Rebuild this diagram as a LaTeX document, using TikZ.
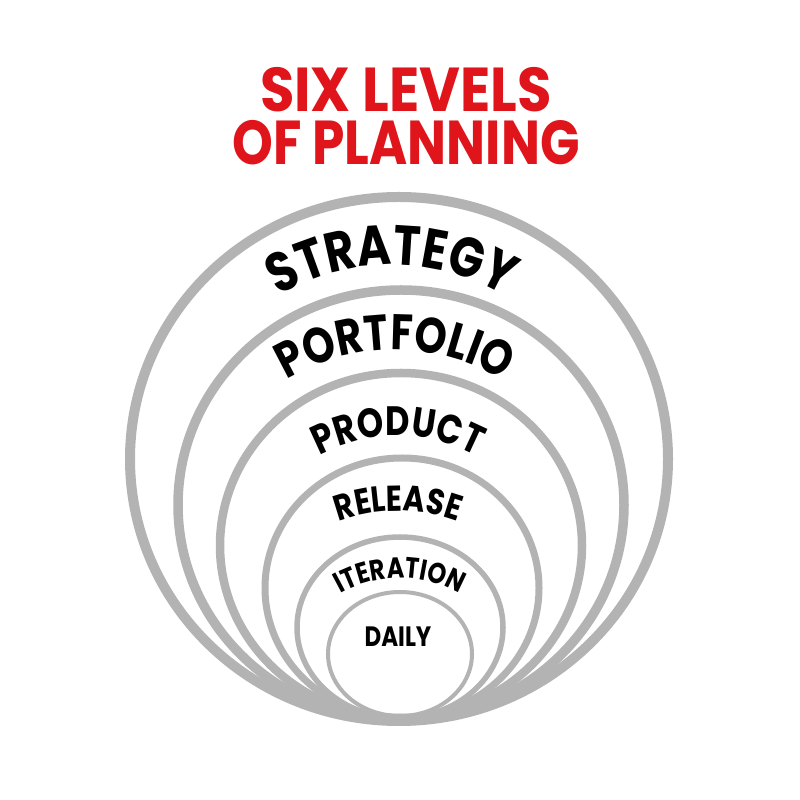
\documentclass[tikz,border=0pt]{standalone}
\usepackage{fontspec}
\newfontfamily\hand[FakeStretch=0.82]{Poppins}
\usetikzlibrary{decorations.text}
\definecolor{ringgray}{HTML}{B3B3B3}
\definecolor{titlered}{HTML}{E0141B}
\begin{document}
\begin{tikzpicture}[x=1pt,y=1pt,
  ring/.style={draw=ringgray},
  titletext/.style={text=titlered,anchor=base,inner sep=0pt,font=\hand\bfseries\fontsize{62}{62}\selectfont},
  curvedtext/.style={decorate,decoration={text along path,text align=center,text={#1}}}
]
\useasboundingbox[fill=white] (0,0) rectangle (800,800);
% title
\node[titletext] (title1) at (406,688) {\scalebox{1.1}[1]{SIX LEVELS}};
\node[titletext] (title2) at (406,635) {\scalebox{1.02}[1]{OF PLANNING}};
% rings
\draw[ring,line width=10pt] (399,341) ellipse [x radius=269,y radius=262];
\draw[ring,line width=9.5pt] (401,295) ellipse [x radius=223,y radius=215];
\draw[ring,line width=8.5pt] (401,254.5) ellipse [x radius=181,y radius=172.5];
\draw[ring,line width=7pt] (402,212) ellipse [x radius=137,y radius=130];
\draw[ring,line width=5.5pt] (400,172.5) ellipse [x radius=103,y radius=90.5];
\draw[ring,line width=4pt] (400,146) ellipse [x radius=72,y radius=62];
% labels
\path[curvedtext={|\hand\bfseries\fontsize{56}{56}\selectfont|STRATEGY}]
  ([shift={(150:220)}]392,315) arc[start angle=150,end angle=30,radius=220];
\path[curvedtext={|\hand\bfseries\fontsize{50}{50}\selectfont|PORTFOLIO}]
  ([shift={(150:210)}]395,240) arc[start angle=150,end angle=30,radius=210];
\path[curvedtext={|\hand\bfseries\fontsize{41}{41}\selectfont|PRODUCT}]
  ([shift={(150:165)}]398,199) arc[start angle=150,end angle=30,radius=165];
\path[curvedtext={|\hand\bfseries\fontsize{36}{36}\selectfont|RELEASE}]
  ([shift={(150:170)}]398,119) arc[start angle=150,end angle=30,radius=170];
\path[curvedtext={|\hand\bfseries\fontsize{29}{29}\selectfont|ITERATION}]
  ([shift={(150:120)}]400,102) arc[start angle=150,end angle=30,radius=120];
\node[anchor=base,inner sep=0pt,font=\hand\bfseries\fontsize{28}{28}\selectfont] (daily) at (398,153) {DAILY};
\end{tikzpicture}
\end{document}
